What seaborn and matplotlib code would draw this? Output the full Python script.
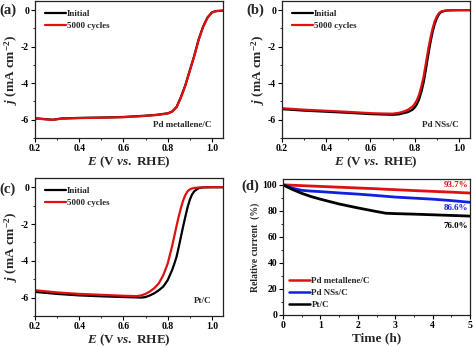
import numpy as np
import pandas as pd
import matplotlib
matplotlib.use("Agg")
import matplotlib.pyplot as plt
from matplotlib.ticker import MultipleLocator, FormatStrFormatter
import seaborn as sns

sns.set_theme(style="ticks")
plt.rcParams["font.family"] = ["Liberation Serif", "DejaVu Serif"]
plt.rcParams["font.weight"] = "bold"
plt.rcParams["axes.labelweight"] = "bold"
plt.rcParams["axes.unicode_minus"] = False
plt.rcParams["mathtext.fontset"] = "custom"
plt.rcParams["mathtext.rm"] = "Liberation Serif:bold"
plt.rcParams["mathtext.it"] = "Liberation Serif:italic:bold"
plt.rcParams["mathtext.bf"] = "Liberation Serif:bold"

# ---- (a) Pd metallene/C polarization curves ----
E_A = [0.20, 0.25, 0.28, 0.32, 0.40, 0.50, 0.60, 0.70, 0.75, 0.80, 0.82, 0.84,
       0.86, 0.88, 0.90, 0.92, 0.94, 0.96, 0.98, 1.00, 1.02, 1.05]
J_A_INIT = [-5.92, -5.97, -6.00, -5.93, -5.90, -5.88, -5.85, -5.78, -5.73, -5.65, -5.55, -5.30,
            -4.75, -4.10, -3.30, -2.50, -1.60, -0.90, -0.40, -0.12, -0.05, -0.03]
J_A_CYC = [-5.93, -5.98, -6.01, -5.94, -5.91, -5.89, -5.86, -5.79, -5.74, -5.66, -5.56, -5.32,
           -4.78, -4.12, -3.32, -2.52, -1.62, -0.92, -0.42, -0.13, -0.05, -0.03]

# ---- (b) Pd NSs/C polarization curves ----
E_B = [0.20, 0.30, 0.40, 0.50, 0.60, 0.65, 0.70, 0.73, 0.75, 0.77, 0.79, 0.80, 0.81, 0.82,
       0.83, 0.84, 0.85, 0.86, 0.87, 0.88, 0.89, 0.90, 0.91, 0.92, 0.94, 0.96, 1.00, 1.05]
J_B_INIT = [-5.42, -5.50, -5.56, -5.62, -5.69, -5.71, -5.73, -5.70, -5.64, -5.58, -5.45, -5.33,
            -5.15, -4.88, -4.48, -3.98, -3.30, -2.55, -1.85, -1.25, -0.78, -0.45, -0.22, -0.10,
            -0.03, -0.01, 0.00, 0.00]
J_B_CYC = [-5.37, -5.45, -5.51, -5.57, -5.64, -5.66, -5.67, -5.62, -5.55, -5.45, -5.28, -5.13,
           -4.92, -4.62, -4.18, -3.65, -2.95, -2.22, -1.58, -1.04, -0.62, -0.34, -0.16, -0.07,
           -0.02, -0.01, 0.00, 0.00]

# ---- (c) Pt/C polarization curves ----
E_C = [0.20, 0.30, 0.40, 0.50, 0.60, 0.66, 0.68, 0.70, 0.72, 0.74, 0.76, 0.78, 0.80, 0.82,
       0.83, 0.84, 0.85, 0.86, 0.87, 0.88, 0.89, 0.90, 0.91, 0.92, 0.94, 0.96, 1.00, 1.05]
J_C_INIT = [-5.69, -5.80, -5.88, -5.93, -5.97, -5.99, -6.00, -5.97, -5.88, -5.76, -5.60, -5.40,
            -5.05, -4.50, -4.16, -3.78, -3.25, -2.68, -2.12, -1.59, -1.08, -0.68, -0.40, -0.22,
            -0.05, -0.01, 0.00, 0.00]
J_C_CYC = [-5.60, -5.72, -5.80, -5.85, -5.90, -5.92, -5.88, -5.80, -5.66, -5.48, -5.22, -4.78,
           -4.15, -3.20, -2.65, -2.10, -1.58, -1.12, -0.72, -0.42, -0.22, -0.12, -0.07, -0.04,
           -0.02, -0.01, 0.00, 0.00]

# ---- (d) chronoamperometric stability ----
T_D = [0, 0.25, 0.5, 0.75, 1.0, 1.5, 2.0, 2.5, 2.75, 3.0, 3.5, 4.0, 4.5, 5.0]
R_METALLENE = [100, 99.7, 99.4, 99.1, 98.8, 98.2, 97.6, 97.0, 96.6, 96.3, 95.6, 95.0, 94.4, 93.7]
R_NSS = [100, 97.5, 95.8, 95.2, 94.8, 93.8, 92.9, 91.8, 91.2, 90.6, 89.8, 89.0, 87.9, 86.6]
R_PTC = [100, 96.5, 93.5, 91.0, 89.0, 85.3, 82.3, 79.5, 78.2, 77.9, 77.5, 77.0, 76.5, 76.0]
FINAL_LABELS = ["93.7%", "86.6%", "76.0%"]

LEGEND_LRV = ["Initial", "5000 cycles"]
CATALYSTS = ["Pd metallene/C", "Pd NSs/C", "Pt/C"]

fig = plt.figure(figsize=(4.74, 3.47), dpi=100)
W, H = 474, 347


def px_axes(l, t, r, b):
    return fig.add_axes([l / W, 1 - b / H, (r - l) / W, (b - t) / H])


ax_a = px_axes(35, 1, 223, 138)
ax_b = px_axes(282, 1, 470, 138)
ax_c = px_axes(35, 178, 223, 316)
ax_d = px_axes(283, 179, 470, 315)

TICK_FS = 7
LABEL_FS = 9.5
spine_col = "#222222"


def style_axes(ax):
    for s in ax.spines.values():
        s.set_color(spine_col)
        s.set_linewidth(0.9)
        s.set_visible(True)
    ax.tick_params(which="major", direction="out", length=2.8, width=0.8,
                   labelsize=TICK_FS, pad=1.5, colors="black")
    ax.tick_params(which="minor", direction="out", length=1.6, width=0.7)
    for lab in ax.get_xticklabels() + ax.get_yticklabels():
        lab.set_fontweight("bold")


def lsv_panel(ax, E, j_init, j_cyc, name, name_y):
    df = pd.DataFrame({
        "E": list(E) * 2,
        "j": list(j_init) + list(j_cyc),
        "run": [LEGEND_LRV[0]] * len(E) + [LEGEND_LRV[1]] * len(E),
    })
    sns.lineplot(data=df, x="E", y="j", hue="run", palette=["black", "#e01010"],
                 linewidth=1.6, ax=ax, sort=False, estimator=None)
    ax.set_xlim(0.2, 1.05)
    ax.set_ylim(-7, 0.5)
    ax.xaxis.set_major_locator(MultipleLocator(0.2))
    ax.xaxis.set_minor_locator(MultipleLocator(0.1))
    ax.yaxis.set_major_locator(MultipleLocator(2))
    ax.yaxis.set_minor_locator(MultipleLocator(1))
    ax.xaxis.set_major_formatter(FormatStrFormatter("%.1f"))
    ax.set_xlabel(r"$E$ (V $vs.$ RHE)", fontsize=LABEL_FS, fontweight="bold", labelpad=1.5)
    ax.set_ylabel(r"$j$ (mA cm$^{-2}$)", fontsize=LABEL_FS, fontweight="bold", labelpad=1)
    leg = ax.legend(loc="upper left", frameon=False, fontsize=6.5, handlelength=2.3,
                    handletextpad=0.15, borderaxespad=0.3, labelspacing=0.35,
                    bbox_to_anchor=(0.02, 0.98))
    for t in leg.get_texts():
        t.set_fontweight("bold")
    for h in leg.get_lines():
        h.set_linewidth(1.6)
    ax.text(1.0, name_y, name, ha="right", va="center", fontsize=6.5, fontweight="bold")
    style_axes(ax)


lsv_panel(ax_a, E_A, J_A_INIT, J_A_CYC, CATALYSTS[0], -6.3)
lsv_panel(ax_b, E_B, J_B_INIT, J_B_CYC, CATALYSTS[1], -6.3)
lsv_panel(ax_c, E_C, J_C_INIT, J_C_CYC, CATALYSTS[2], -6.2)

# ---- (d) ----
df_d = pd.DataFrame({
    "t": T_D * 3,
    "r": R_METALLENE + R_NSS + R_PTC,
    "cat": [CATALYSTS[0]] * len(T_D) + [CATALYSTS[1]] * len(T_D) + [CATALYSTS[2]] * len(T_D),
})
d_colors = ["#e01010", "#1020e0", "black"]
sns.lineplot(data=df_d, x="t", y="r", hue="cat", palette=d_colors, linewidth=2.0,
             ax=ax_d, sort=False, estimator=None)
ax_d.set_xlim(0, 5)
ax_d.set_ylim(0, 104.5)
ax_d.xaxis.set_major_locator(MultipleLocator(1))
ax_d.xaxis.set_minor_locator(MultipleLocator(0.5))
ax_d.yaxis.set_major_locator(MultipleLocator(20))
ax_d.yaxis.set_minor_locator(MultipleLocator(10))
ax_d.set_xlabel("Time (h)", fontsize=LABEL_FS, fontweight="bold", labelpad=1.5)
ax_d.set_ylabel("Relative current  (%)", fontsize=7, fontweight="bold", labelpad=2)
leg = ax_d.legend(loc="lower left", frameon=False, fontsize=6.5, handlelength=2.3,
                  handletextpad=0.15, borderaxespad=0.3, labelspacing=0.4,
                  bbox_to_anchor=(0.0, 0.0))
for t in leg.get_texts():
    t.set_fontweight("bold")
for h in leg.get_lines():
    h.set_linewidth(1.8)
for lab, y, c in zip(FINAL_LABELS, [99.8, 82.2, 68.5], d_colors):
    ax_d.text(4.95, y, lab, ha="right", va="center", fontsize=6.5, fontweight="bold", color=c)
style_axes(ax_d)

# panel letters
for letter, x, y in [("(a)", 8, 10), ("(b)", 255, 10), ("(c)", 8, 189), ("(d)", 250, 186)]:
    fig.text(x / W, 1 - y / H, letter, ha="center", va="center", fontsize=10.5, fontweight="bold")

fig.savefig("out.png", dpi=100)
